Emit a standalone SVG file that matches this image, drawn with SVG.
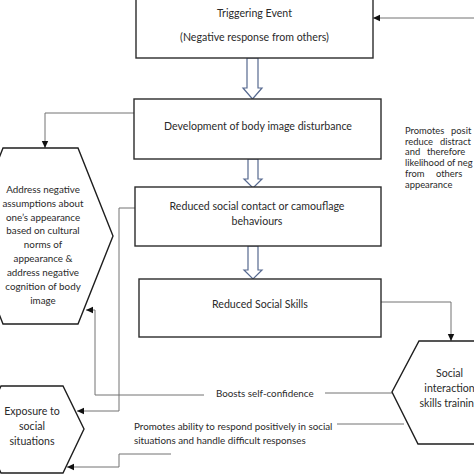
<svg xmlns="http://www.w3.org/2000/svg" width="474" height="474" viewBox="0 0 474 474">
<style>
.box{fill:#fff;stroke:#2b2b2b;stroke-width:1.4}
.hex{fill:#fff;stroke:#1e1e1e;stroke-width:1.4}
.blk{fill:#fff;stroke:#56698f;stroke-width:1.2}
.con{fill:none;stroke:#727272;stroke-width:1}
text{font-family:Lato,"Liberation Sans",sans-serif;fill:#2a2a2a;font-size:10.6px}
.c{text-anchor:middle}
.sm{font-size:9.4px}
.hx{font-size:9.8px}
.lb{font-size:9.8px}
</style>
<defs>
<marker id="ah" markerWidth="8" markerHeight="8" refX="7" refY="4" orient="auto" markerUnits="userSpaceOnUse">
<path d="M0,0.8 L7,4 L0,7.2 Z" fill="#111"/>
</marker>
</defs>
<rect width="474" height="474" fill="#fff"/>

<g id="connectors">
<polyline class="con" points="474,18 373,18" marker-end="url(#ah)"/>
<polyline class="con" points="134,113 45,113 45,148" marker-end="url(#ah)"/>
<polyline class="con" points="135,208 119,208 119,411 77,411" marker-end="url(#ah)"/>
<polyline class="con" points="381,302 451,302 451,341" marker-end="url(#ah)"/>
<polyline class="con" points="392,393 325,393"/>
<polyline class="con" points="204,395 95,395 95,310 86,310" marker-end="url(#ah)"/>
<polyline class="con" points="404,424 337,424"/>
<polyline class="con" points="171,454 119,454 119,467 67,467" marker-end="url(#ah)"/>
<g id="block-arrows">
<path class="blk" d="M247,58 H258 V88 H262 L252.5,99 L243,88 H247 Z"/>
<path class="blk" d="M248,159 H258 V179 H262 L253,188 L244,179 H248 Z"/>
<path class="blk" d="M248,246 H258 V270 H262 L253,279 L244,270 H248 Z"/>
</g>
</g>

<g id="triggering-event">
<rect class="box" x="136" y="-20" width="237" height="78"/>
<text class="c" x="254.5" y="17">Triggering Event</text>
<text class="c" x="254.5" y="41">(Negative response from others)</text>
</g>

<g id="body-image">
<rect class="box" x="134" y="99" width="247" height="60"/>
<text class="c" x="258" y="130">Development of body image disturbance</text>
</g>

<g id="reduced-contact">
<rect class="box" x="135" y="187" width="246" height="59"/>
<text class="c" x="257" y="210">Reduced social contact or camouflage</text>
<text class="c" x="257" y="225">behaviours</text>
</g>

<g id="reduced-skills">
<rect class="box" x="139" y="279" width="242" height="58"/>
<text class="c" x="260" y="308">Reduced Social Skills</text>
</g>

<g id="address-negative">
<polygon class="hex" points="-32,236 3,148 78,148 113,236 78,324 3,324"/>
<text class="c hx" x="43" y="193">Address negative</text>
<text class="c hx" x="43" y="207">assumptions about</text>
<text class="c hx" x="43" y="221">one’s appearance</text>
<text class="c hx" x="43" y="234">based on cultural</text>
<text class="c hx" x="43" y="248">norms of</text>
<text class="c hx" x="43" y="262">appearance &amp;</text>
<text class="c hx" x="43" y="276">address negative</text>
<text class="c hx" x="43" y="290">cognition of body</text>
<text class="c hx" x="43" y="304">image</text>
</g>

<g id="exposure">
<polygon class="hex" points="-20,429 1,386 63,386 84,429 63,473 1,473"/>
<text class="c" x="32" y="415">Exposure to</text>
<text class="c" x="32" y="430">social</text>
<text class="c" x="32" y="445">situations</text>
</g>

<g id="social-training">
<polygon class="hex" points="419,341 500,341 527,392 500,444 418,444 392,392"/>
<text class="c" x="449.5" y="377">Social</text>
<text class="c" x="449.5" y="392">interaction</text>
<text class="c" x="449.5" y="407">skills training</text>
</g>

<g id="labels">
<text class="lb" x="216" y="397">Boosts self-confidence</text>
<text class="lb" x="134" y="430">Promotes ability to respond positively in social</text>
<text class="lb" x="134" y="444">situations and handle difficult responses</text>
<text class="sm" x="405" y="134">Promotes<tspan x="451">posit</tspan></text>
<text class="sm" x="405" y="145">reduce<tspan x="440">distract</tspan></text>
<text class="sm" x="405" y="155">and<tspan x="427">therefore</tspan></text>
<text class="sm" x="405" y="166">likelihood of neg</text>
<text class="sm" x="405" y="177">from<tspan x="436">others</tspan></text>
<text class="sm" x="405" y="188">appearance</text>
</g>
</svg>
